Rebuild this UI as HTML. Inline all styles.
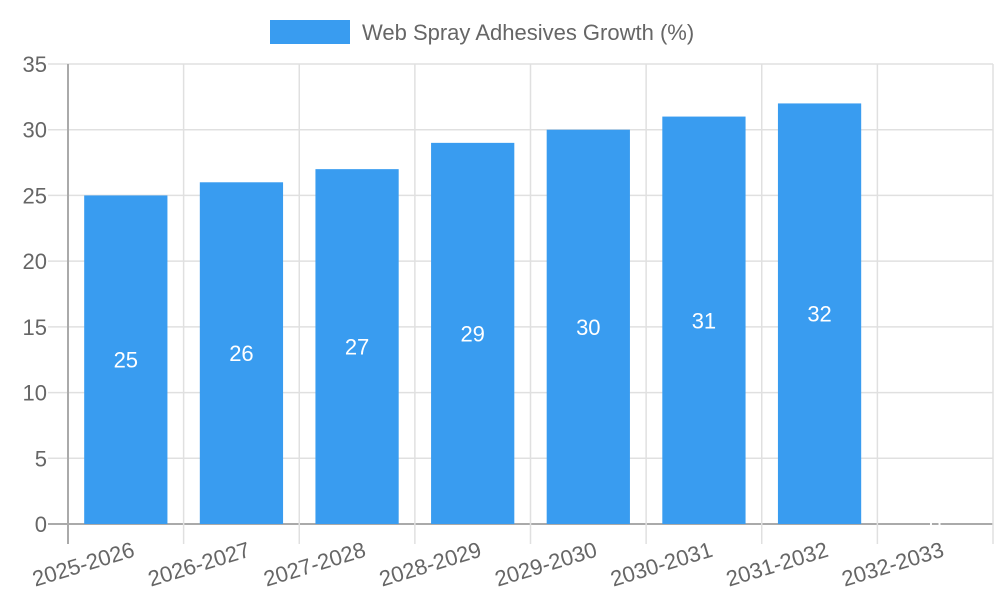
<!DOCTYPE html>
<html><head><meta charset="utf-8"><style>
body{margin:0;background:#fff;}
svg{display:block;font-family:"Liberation Sans",sans-serif;}
</style></head><body>
<svg id="chart" width="1000" height="600" viewBox="0 0 1000 600">
<rect x="270" y="20" width="80" height="24" fill="#399cf0"/>
<text x="362" y="40" font-size="22" fill="#666">Web Spray Adhesives Growth (%)</text>
<g id="grid"></g><g id="bars"></g><g id="labels"></g>
</svg>
<script>
const categories=["2025-2026","2026-2027","2027-2028","2028-2029","2029-2030","2030-2031","2031-2032","2032-2033"];
const values=[25,26,27,29,30,31,32,0];
const yTicks=[0,5,10,15,20,25,30,35];
const NS="http://www.w3.org/2000/svg";
const L=68,R=993,T=64,B=524,yMax=35;
const cw=(R-L)/categories.length;
const y=v=>B-(v/yMax)*(B-T);
const x=i=>L+i*cw;
function mk(t,a,p){const e=document.createElementNS(NS,t);for(const k in a)e.setAttribute(k,a[k]);p.appendChild(e);return e;}
const g=document.getElementById('grid'),bg=document.getElementById('bars'),lg=document.getElementById('labels');
yTicks.forEach(v=>{
 const ln=mk('line',{x1:48,x2:R,y1:y(v),y2:y(v),stroke:v===0?'#aaa':'#e0e0e0','stroke-width':v===0?2:1.5},g);
 
 
 const t=mk('text',{x:47,y:y(v)+8,'text-anchor':'end','font-size':22,fill:'#666'},g);
 t.textContent=v;
 
 
});
for(let i=0;i<=categories.length;i++){
 const ln=mk('line',{x1:x(i),x2:x(i),y1:T,y2:B+20,stroke:i===0?'#aaa':'#e0e0e0','stroke-width':i===0?2:1.5},g);
 
 
}
categories.forEach((c,i)=>{
 const bw=cw*0.72,bx=x(i)+(cw-bw)/2;
 const r=mk('rect',{x:bx,y:y(values[i]),width:bw,height:B-y(values[i]),fill:'#399cf0'},bg);
 
 
 const vt=mk('text',{x:bx+bw/2,y:(y(values[i])+B)/2+8,'text-anchor':'middle','font-size':22,fill:'#fff'},lg);
 vt.textContent=values[i];
 
 
 const cx=x(i)+cw/2+10;
 const t=mk('text',{x:cx,y:B+32,'text-anchor':'end','font-size':22,fill:'#666',transform:`rotate(-17 ${cx} ${B+32})`},lg);
 t.textContent=c;
 
 
});
</script>
</body></html>
